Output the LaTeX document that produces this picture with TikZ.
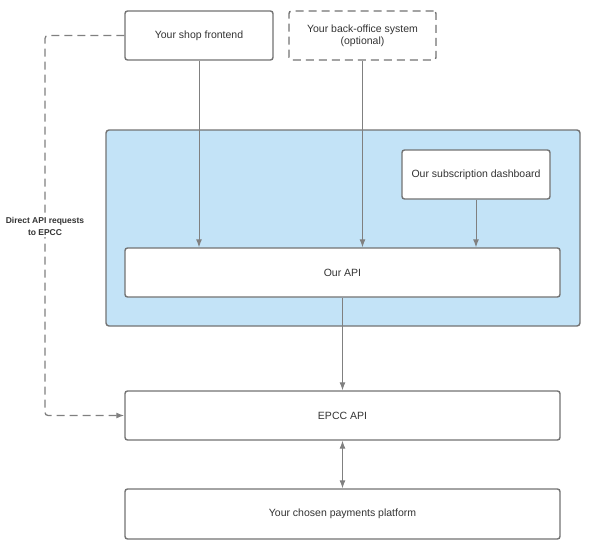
\documentclass[tikz,border=0pt]{standalone}
\usepackage{fontspec}
\setmainfont{Liberation Sans}
\usepackage{xcolor}
\usetikzlibrary{arrows.meta}
\definecolor{boxline}{rgb}{0.45, 0.45, 0.45}
\definecolor{arrowgray}{rgb}{0.50, 0.50, 0.50}
\definecolor{paleblue}{rgb}{0.765, 0.890, 0.969}
\definecolor{inkgray}{rgb}{0.20, 0.20, 0.20}

\begin{document}
\begin{tikzpicture}[x=1pt,y=-1pt]
	\tikzstyle{flowarrow} = [arrowgray,line width=1pt,-{Latex[length=8pt,width=6pt]}]
	\tikzstyle{sysbox} = [draw=boxline,line width=1.4pt,fill=white,rounded corners=2.5pt,
		text=inkgray,font=\fontsize{10.5}{12}\selectfont,align=center,minimum height=49pt]

	\useasboundingbox (0,0) rectangle (592,551);

	% Draw the platform area.
	\node (platform) [draw=boxline,line width=1.4pt,fill=paleblue,rounded corners=3pt,
		minimum width=474pt,minimum height=196pt] at (343,228) {};

	% Draw the boxes.
	\node (shop) [sysbox,minimum width=148pt] at (199,35.5) {Your shop frontend};
	\node (backoffice) [sysbox,minimum width=147pt,dashed,dash pattern=on 8pt off 5pt]
		at (362.5,35.5) {Your back-office system\\(optional)};
	\node (dashboard) [sysbox,minimum width=148pt] at (476,174.5) {Our subscription dashboard};
	\node (ourapi) [sysbox,minimum width=435pt] at (342.5,272.5) {Our API};
	\node (epcc) [sysbox,minimum width=435pt] at (342.5,415.5) {EPCC API};
	\node (payments) [sysbox,minimum width=435pt,minimum height=50pt] at (342.5,514) {Your chosen payments platform};

	% Draw the arrows.
	\draw[flowarrow] (shop.south) -- (shop.south |- ourapi.north);
	\draw[flowarrow] (backoffice.south) -- (backoffice.south |- ourapi.north);
	\draw[flowarrow] (dashboard.south) -- (dashboard.south |- ourapi.north);
	\draw[flowarrow] (ourapi.south) -- (epcc.north);
	\draw[flowarrow,{Latex[length=8pt,width=6pt]}-{Latex[length=8pt,width=6pt]}] (epcc.south) -- (payments.north);

	% Direct requests, dashed
	\coordinate (bendtop) at (45,35.5);
	\coordinate (bendbottom) at (45,415.5);
	\draw[flowarrow,line width=1.3pt,dash pattern=on 8pt off 5pt,rounded corners=3pt]
		(shop.west) -- (bendtop) -- (bendbottom) -- (epcc.west);
	\node (directlabel) [fill=white,inner sep=1.5pt,align=center,text=inkgray,
		font=\bfseries\fontsize{8.5}{12}\selectfont] at (45,226) {Direct API requests\\to EPCC};
\end{tikzpicture}
\end{document}
